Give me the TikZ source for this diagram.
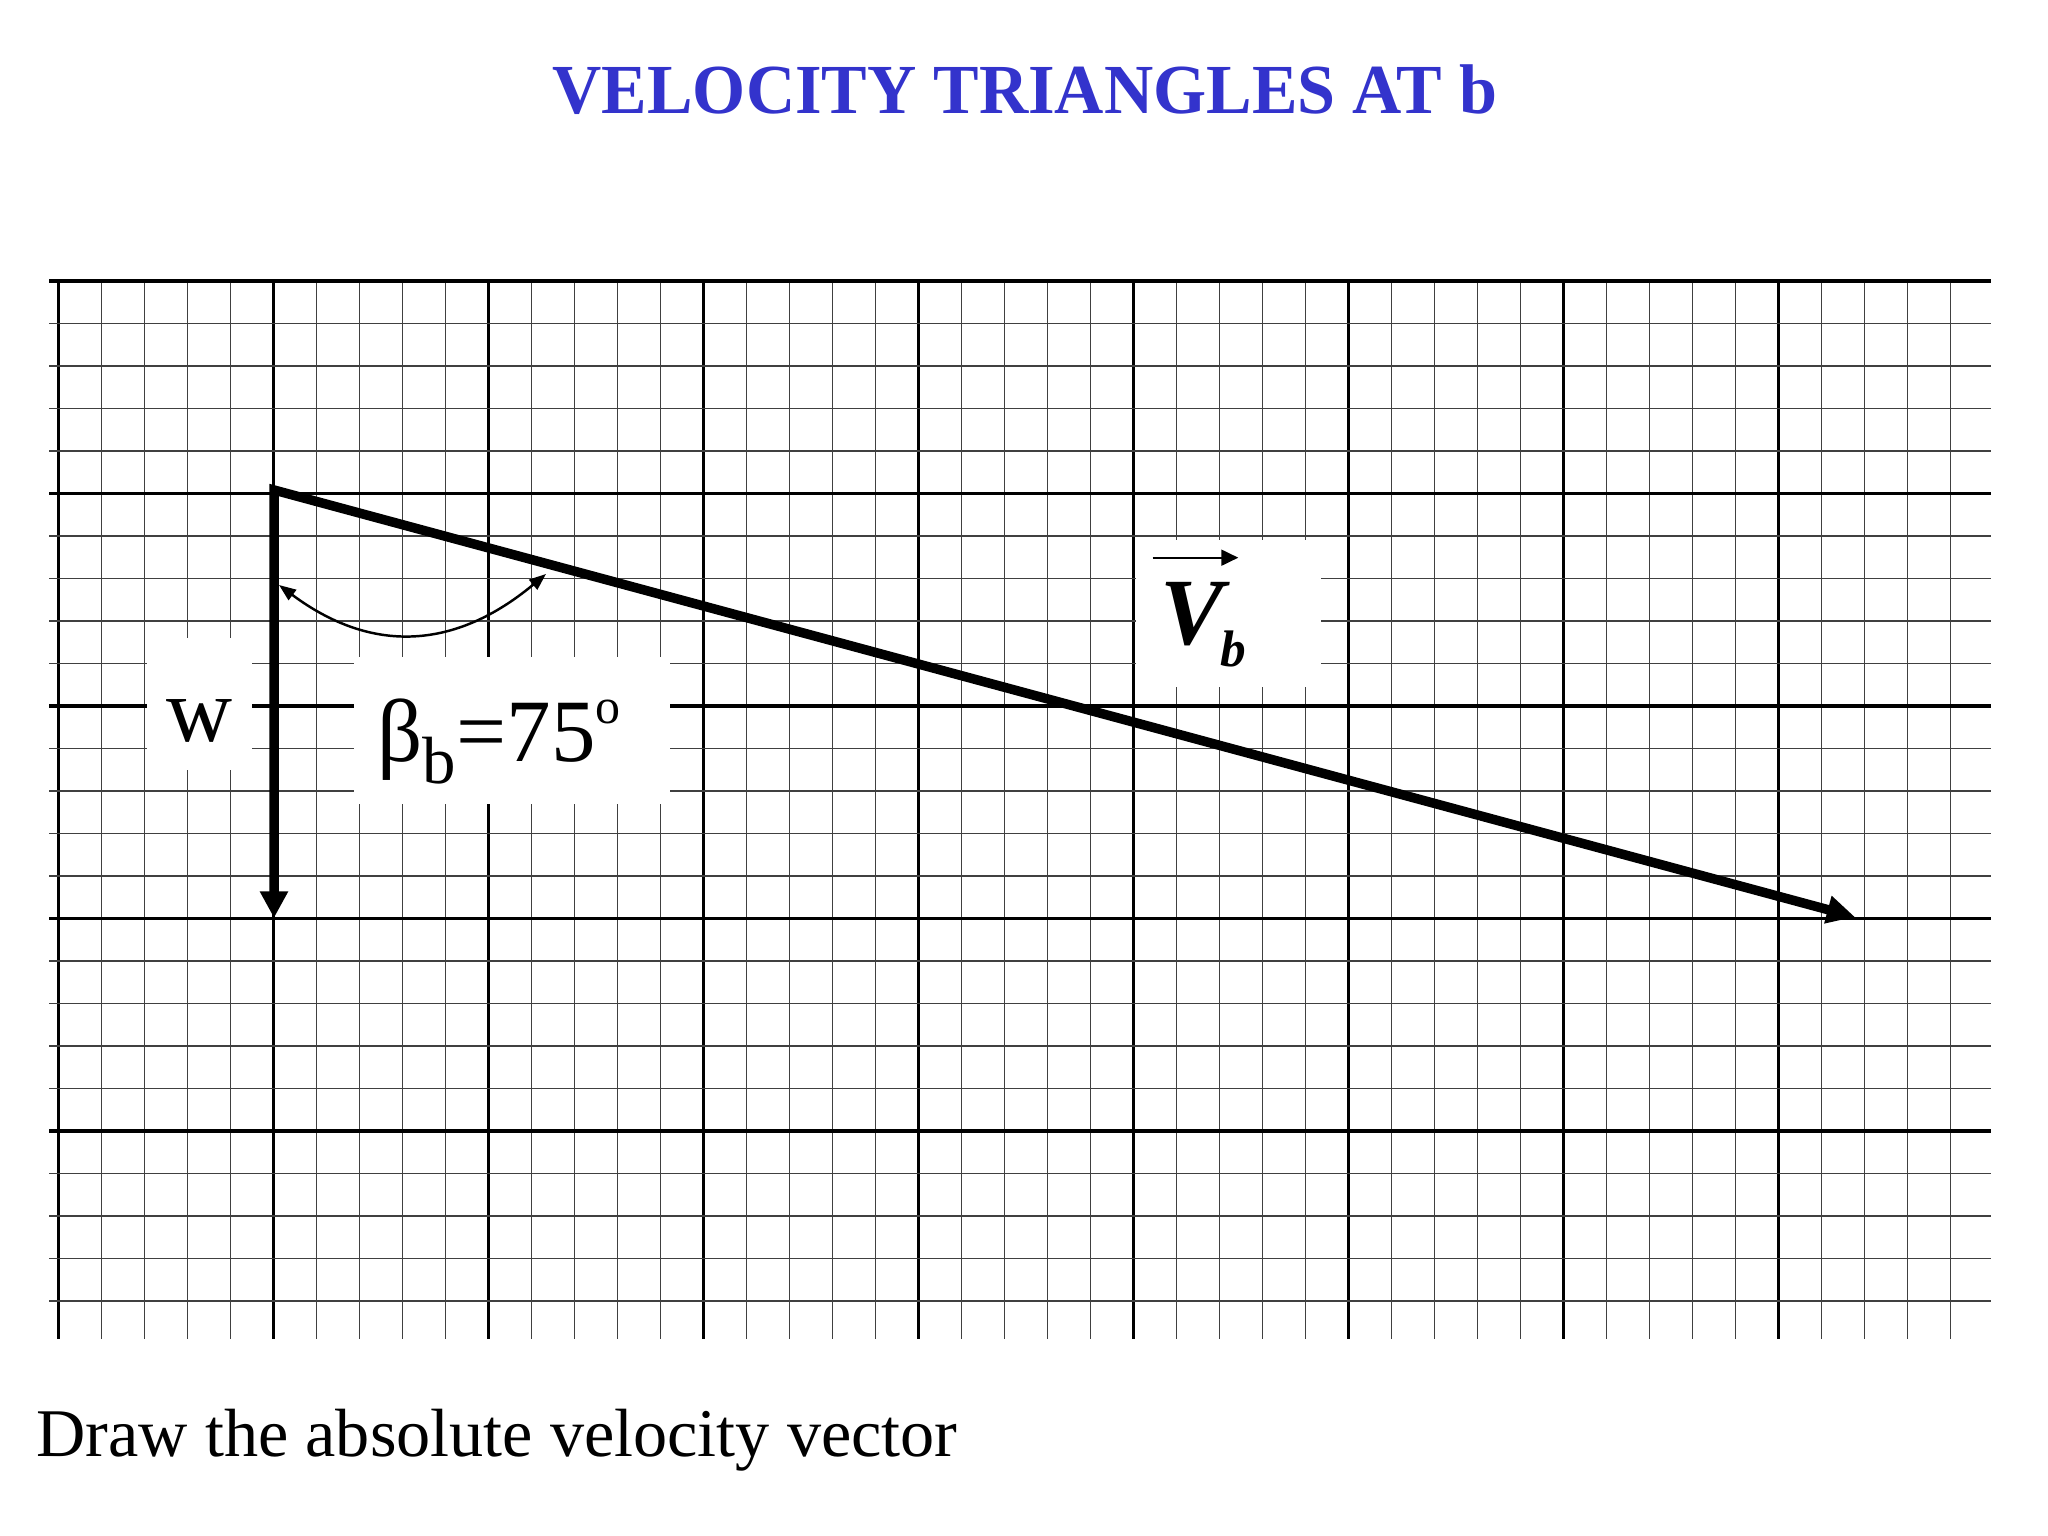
\documentclass[tikz,border=0pt]{standalone}
\usepackage{fontspec}
\setmainfont{Liberation Serif}
\usetikzlibrary{arrows.meta}
\definecolor{titleblue}{RGB}{51,51,204}
\begin{document}
\begin{tikzpicture}[x=0.01cm,y=0.01cm,
  minor/.style={line width=0.5pt, black!75},
  major/.style={line width=0.9pt, black},
  vec/.style={line width=2.7pt, miter limit=4,
    {Triangle[length=7.6pt,width=7.6pt]}-{Triangle[length=8pt,width=7.6pt]}},
  anglearc/.style={line width=0.7pt,
    {Triangle[length=4.8pt,width=3.6pt]}-{Triangle[length=4.8pt,width=3.6pt]}},
  labarrow/.style={line width=0.6pt, -{Triangle[length=4.8pt,width=4.5pt]}},
  lab/.style={inner sep=0pt, anchor=base west},
  mask/.style={fill=white, draw=none}]
\useasboundingbox (0,0) rectangle (2048,1536);
\fill[white] (0,0) rectangle (2048,1536);
% grid: vertical lines
\foreach \i in {0,...,44} {
  \draw[minor] ({58.5+43*\i},197) -- ({58.5+43*\i},1255);
}
\foreach \i in {0,5,...,40} {
  \draw[major] ({58.5+43*\i},197) -- ({58.5+43*\i},1255);
}
% grid: horizontal lines
\foreach \j in {0,...,24} {
  \draw[minor] (49,{1255-42.5*\j}) -- (1991,{1255-42.5*\j});
}
\foreach \j in {0,5,...,20} {
  \draw[major] (49,{1255-42.5*\j}) -- (1991,{1255-42.5*\j});
}
% white label areas
\fill[mask] (147,766) rectangle (252,898);
\fill[mask] (354,732) rectangle (670,879);
\fill[mask] (1136,849) rectangle (1321,996);
% vectors
\coordinate (O) at (274,1046);
\coordinate (W) at (274,618);
\coordinate (Vt) at (1855,619);
\draw[vec] (W) -- (O) -- (Vt);
% angle arc
\coordinate (A1) at (279,951);
\coordinate (A2) at (546,962);
\draw[anglearc] (A1) .. controls (373,881) and (456,887) .. (A2);
% vector label arrow
\coordinate (VA1) at (1152.7,978.3);
\coordinate (VA2) at (1238.3,978.3);
\draw[labarrow] (VA1) -- (VA2);
% texts
\node[lab, text=titleblue, font=\fontsize{20}{24}\selectfont\bfseries] (title) at (552,1422.7) {\scalebox{0.97}[1]{VELOCITY TRIANGLES AT b}};
\node[lab, font=\fontsize{19.4}{24}\selectfont] (task) at (36,79.3) {Draw the absolute velocity vector};
\node[lab, font=\fontsize{26}{30}\selectfont] (wlab) at (166,794.3) {w};
\node[lab, font=\fontsize{25.3}{30}\selectfont] (blab) at (377,774.3) {β\raisebox{-6.1pt}{\fontsize{19}{20}\selectfont b}=75\raisebox{11pt}{\fontsize{14.2}{16}\selectfont o}};
\node[lab, font=\fontsize{27}{30}\selectfont\bfseries\itshape] (vlab) at (1160,891) {V\kern-1pt\raisebox{-6.2pt}{\fontsize{14.6}{16}\selectfont b}};
\end{tikzpicture}
\end{document}
